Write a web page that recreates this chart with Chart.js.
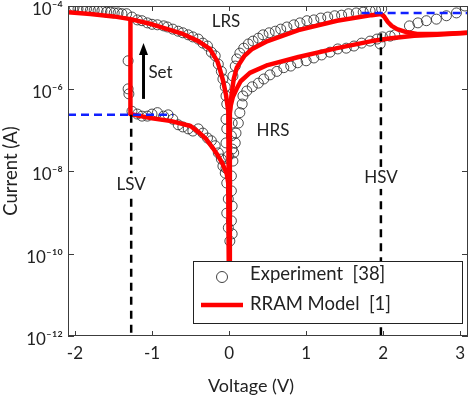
<!DOCTYPE html>
<html>
<head>
<meta charset="utf-8">
<script src="https://cdn.jsdelivr.net/npm/chart.js@4.4.1/dist/chart.umd.min.js"></script>
<style>
  html, body { margin: 0; padding: 0; background: #fff; }
</style>
</head>
<body>
<canvas id="ivChart" width="474" height="397"></canvas>
<script>
// ticks
const xTicks = [-2, -1, 0, 1, 2, 3];
const yTickValues = [1e-12, 1e-10, 1e-8, 1e-6, 1e-4];
const yTickLabels = ['10⁻¹²', '10⁻¹⁰', '10⁻⁸', '10⁻⁶', '10⁻⁴'];

// measured points (V, A)
const expV = [
  -2.06, -2.01, -1.96, -1.90, -1.85, -1.80, -1.75, -1.70, -1.65, -1.59, -1.54, -1.49, -1.44, -1.39, -1.33,
  -1.31, -1.31, -1.30,
  -1.26, -1.19, -1.13, -1.06, -1.00, -0.93, -0.85, -0.80, -0.73, -0.66, -0.60, -0.53, -0.47, -0.40, -0.34, -0.28, -0.23, -0.18, -0.14, -0.10, -0.08, -0.05, -0.04, -0.03,
  -1.26, -1.19, -1.13, -1.06, -1.00, -0.93, -0.85, -0.79, -0.73, -0.66, -0.60, -0.53, -0.47, -0.40, -0.34, -0.28, -0.23, -0.18, -0.14, -0.10, -0.08, -0.05,
  -0.04, 0.04, -0.03, 0.03, -0.04, 0.04, -0.01, 0.05, -0.04, 0.03, -0.03, 0.03, -0.01, 0.04, -0.03, 0.03, -0.01, 0.04, 0.01,
  0.17, 0.14, 0.12, 0.09, 0.08, 0.06, 0.18, 0.23, 0.30, 0.38, 0.45, 0.53, 0.62, 0.71, 0.80, 0.89, 1.00, 1.10, 1.20, 1.31, 1.41, 1.52, 1.62, 1.72, 1.83, 1.92, 1.99, 1.96, 2.09, 2.15,
  2.34, 2.45, 2.56, 2.69, 2.82, 2.95, 3.06,
  0.05, 0.08, 0.10, 0.14, 0.19, 0.25, 0.31, 0.38, 0.44, 0.52, 0.60, 0.67, 0.75, 0.84, 0.92, 1.01, 1.10, 1.19, 1.28, 1.37, 1.46, 1.55, 1.65, 1.74, 1.83, 1.90, 1.98
];
const expI = [
  8.9e-5, 9.55e-5, 8.5e-5, 8.9e-5, 8.5e-5, 7.9e-5, 7.9e-5, 7.6e-5, 7.6e-5, 7.1e-5, 7.1e-5, 6.8e-5, 6.8e-5, 6.5e-5, 6.5e-5,
  4.7e-6, 9.8e-7, 7.4e-7,
  5.4e-5, 4.6e-5, 4.4e-5, 3.9e-5, 3.6e-5, 3.5e-5, 3.3e-5, 3.1e-5, 2.75e-5, 2.45e-5, 2.24e-5, 2.0e-5, 1.78e-5, 1.58e-5, 1.26e-5, 1.07e-5, 7.6e-6, 6.2e-6, 3.9e-6, 2.6e-6, 1.7e-6, 1.1e-6, 6.6e-7, 4.2e-7,
  2.8e-7, 2.4e-7, 2.14e-7, 2.14e-7, 2.4e-7, 2.6e-7, 2.14e-7, 2.3e-7, 1.8e-7, 1.32e-7, 1.17e-7, 1.05e-7, 9.3e-8, 1.05e-7, 8.3e-8, 6.3e-8, 5.4e-8, 4.1e-8, 2.75e-8, 1.95e-8, 1.32e-8, 8.9e-9,
  1.8e-7, 1.45e-7, 1.05e-7, 7.1e-8, 4.8e-8, 3.4e-8, 2.3e-8, 1.74e-8, 1.17e-8, 7.6e-9, 5.1e-9, 3.3e-9, 2.1e-9, 1.41e-9, 9.5e-10, 6.2e-10, 4.2e-10, 3.0e-10, 2.0e-10,
  4.2e-7, 2.6e-7, 1.45e-7, 8.3e-8, 4.8e-8, 2.75e-8, 6.6e-7, 8.7e-7, 1.1e-6, 1.35e-6, 1.7e-6, 2.14e-6, 2.6e-6, 3.2e-6, 3.5e-6, 4.2e-6, 4.7e-6, 5.5e-6, 6.5e-6, 7.6e-6, 9.1e-6, 9.5e-6, 1.07e-5, 1.26e-5, 1.41e-5, 1.58e-5, 1.78e-5, 1.2e-5, 1.86e-5, 2.0e-5,
  3.3e-5, 3.9e-5, 4.4e-5, 4.8e-5, 5.8e-5, 6.8e-5, 1.0e-4,
  2.0e-6, 3.5e-6, 5.2e-6, 7.2e-6, 9.5e-6, 1.2e-5, 1.41e-5, 1.66e-5, 2.0e-5, 2.24e-5, 2.45e-5, 2.75e-5, 3.1e-5, 3.5e-5, 3.9e-5, 4.4e-5, 4.6e-5, 5.1e-5, 5.4e-5, 5.8e-5, 6.0e-5, 6.5e-5, 6.8e-5, 7.1e-5, 7.6e-5, 7.9e-5, 8.5e-5
];

// model branches
const lrsNegV = [-2.09, -1.8, -1.5, -1.28, -1.0, -0.8, -0.6, -0.4, -0.25, -0.15, -0.12, -0.08, -0.04, -0.01, 0];
const lrsNegI = [7.1e-5, 6.4e-5, 5.6e-5, 4.8e-5, 3.6e-5, 2.75e-5, 2.1e-5, 1.41e-5, 9.1e-6, 4.5e-6, 2.95e-6, 1.6e-6, 7e-7, 2.8e-7, 2.5e-11];
const hrsNegV = [0, -0.01, -0.03, -0.09, -0.15, -0.21, -0.3, -0.38, -0.5, -0.75, -1.0, -1.15, -1.28, -1.28];
const hrsNegI = [2.5e-11, 5.0e-9, 8.5e-9, 1.58e-8, 2.45e-8, 3.6e-8, 6.0e-8, 8.3e-8, 1.23e-7, 1.62e-7, 1.9e-7, 2.14e-7, 2.4e-7, 4.8e-5];
const lrsPosV = [0, 0.01, 0.03, 0.06, 0.1, 0.2, 0.3, 0.5, 0.9, 1.4, 1.85, 1.97, 2.01, 2.06, 2.11, 2.18, 2.31, 2.44, 2.7, 3.1];
const lrsPosI = [2.5e-11, 2.8e-7, 6.6e-7, 1.7e-6, 3.2e-6, 6.2e-6, 9.1e-6, 1.41e-5, 2.6e-5, 4.4e-5, 6.0e-5, 6.4e-5, 5.6e-5, 4.1e-5, 3.3e-5, 2.75e-5, 2.3e-5, 2.1e-5, 2.1e-5, 2.24e-5];
const hrsPosV = [0.01, 0.02, 0.05, 0.1, 0.15, 0.27, 0.5, 0.9, 1.4, 1.85, 2.1, 2.4, 2.7, 3.1];
const hrsPosI = [2.6e-7, 3.8e-7, 6.3e-7, 1.0e-6, 1.5e-6, 2.4e-6, 3.7e-6, 5.8e-6, 9.5e-6, 1.41e-5, 1.66e-5, 1.9e-5, 2.0e-5, 2.24e-5];

// guide lines
const lsvLineV = [-1.27, -1.27];
const lsvLineI = [2.3e-7, 1e-12];
const hsvLineV = [1.97, 1.97];
const hsvLineI = [4.8e-5, 1e-12];
const lsvLevelV = [-2.09, -0.73];
const lsvLevelI = [2.3e-7, 2.3e-7];
const hsvLevelV = [1.72, 3.1];
const hsvLevelI = [6.8e-5, 6.8e-5];

// text on the plot
const noteText = ['LRS', 'HRS', 'Set', 'LSV', 'HSV'];
const noteV = [-0.04, 0.57, -0.89, -1.27, 1.97];
const noteI = [4.1e-5, 9.8e-8, 2.4e-6, 4.8e-9, 6.8e-9];
const setArrowV = [-1.11, -1.11];
const setArrowI = [5.6e-7, 1.26e-5];
const legendLabels = ['Experiment  [38]', 'RRAM Model  [1]'];

const FONT = 'Lato, "DejaVu Sans", sans-serif';
const INK = '#222';
const RED = '#ff0000';

const pts = (vs, is) => vs.map((v, k) => ({ x: v, y: is[k] }));

function lineSet(vs, is, color, width, dash, order) {
    return {
        data: pts(vs, is), showLine: true, borderColor: color, borderWidth: width,
        borderDash: dash, pointRadius: 0, pointHoverRadius: 0, tension: 0,
        borderJoinStyle: 'round', borderCapStyle: 'butt', order
    };
}

// frame, inner ticks, notes, arrow, legend, x title
const decor = {
    id: 'decor',
    afterDatasetsDraw(chart) {
        const { ctx, chartArea: a, scales: { x, y } } = chart;
        ctx.save();

        ctx.strokeStyle = '#3c3c3c';
        ctx.lineWidth = 1;
        ctx.strokeRect(a.left + 0.5, a.top + 0.5, a.right - a.left - 1, a.bottom - a.top - 1);
        ctx.beginPath();
        xTicks.forEach(v => {
            const px = Math.round(x.getPixelForValue(v)) + 0.5;
            ctx.moveTo(px, a.bottom); ctx.lineTo(px, a.bottom - 5);
            ctx.moveTo(px, a.top); ctx.lineTo(px, a.top + 5);
        });
        yTickValues.forEach(v => {
            const py = Math.round(y.getPixelForValue(v)) + 0.5;
            ctx.moveTo(a.left, py); ctx.lineTo(a.left + 6, py);
            ctx.moveTo(a.right, py); ctx.lineTo(a.right - 6, py);
        });
        ctx.stroke();

        // Set arrow
        const ax = x.getPixelForValue(setArrowV[0]);
        const ay0 = y.getPixelForValue(setArrowI[0]);
        const ay1 = y.getPixelForValue(setArrowI[1]);
        ctx.strokeStyle = '#000';
        ctx.lineWidth = 3;
        ctx.beginPath(); ctx.moveTo(ax, ay0); ctx.lineTo(ax, ay1 + 8); ctx.stroke();
        ctx.fillStyle = '#000';
        ctx.beginPath(); ctx.moveTo(ax, ay1); ctx.lineTo(ax - 4.5, ay1 + 12); ctx.lineTo(ax + 4.5, ay1 + 12); ctx.closePath(); ctx.fill();

        // notes
        ctx.font = '17px ' + FONT;
        ctx.textAlign = 'center';
        ctx.textBaseline = 'middle';
        noteText.forEach((t, k) => {
            const px = x.getPixelForValue(noteV[k]);
            const py = y.getPixelForValue(noteI[k]);
            const w = ctx.measureText(t).width;
            ctx.fillStyle = '#fff';
            ctx.fillRect(px - w / 2 - 2, py - 11, w + 4, 22);
            ctx.fillStyle = INK;
            ctx.fillText(t, px, py);
        });

        // legend box
        const lx = a.left + 125, ly = a.bottom - 75, lw = a.right - 6 - lx, lh = 62;
        ctx.fillStyle = '#fff';
        ctx.fillRect(lx, ly, lw, lh);
        ctx.strokeStyle = '#222';
        ctx.lineWidth = 1;
        ctx.strokeRect(lx + 0.5, ly + 0.5, lw, lh);
        ctx.strokeStyle = 'rgba(45,45,45,0.9)';
        ctx.beginPath(); ctx.arc(lx + 29, ly + 16, 5.5, 0, Math.PI * 2); ctx.stroke();
        ctx.strokeStyle = RED;
        ctx.lineWidth = 4.5;
        ctx.beginPath(); ctx.moveTo(lx + 8, ly + 44); ctx.lineTo(lx + 50, ly + 44); ctx.stroke();
        ctx.font = '18.5px ' + FONT;
        ctx.fillStyle = INK;
        ctx.textAlign = 'left';
        ctx.fillText(legendLabels[0], lx + 57, ly + 13);
        ctx.fillText(legendLabels[1], lx + 57, ly + 43);

        // x title
        ctx.font = '18px ' + FONT;
        ctx.textAlign = 'center';
        ctx.fillText('Voltage (V)', (a.left + a.right) / 2 - 17, 386);
        ctx.restore();
    }
};

new Chart(document.getElementById('ivChart'), {
    type: 'scatter',
    data: {
        datasets: [
            {
                data: pts(expV, expI), pointStyle: 'circle', pointRadius: 5, pointHoverRadius: 5,
                pointBorderWidth: 1, pointBorderColor: 'rgba(45,45,45,0.85)',
                pointBackgroundColor: 'rgba(0,0,0,0)', order: 3
            },
            lineSet(lrsNegV, lrsNegI, RED, 4.5, [], 2),
            lineSet(hrsNegV, hrsNegI, RED, 4.5, [], 2),
            lineSet(lrsPosV, lrsPosI, RED, 4.5, [], 2),
            lineSet(hrsPosV, hrsPosI, RED, 4.5, [], 2),
            lineSet(lsvLineV, lsvLineI, '#000', 2.5, [8, 6], 1),
            lineSet(hsvLineV, hsvLineI, '#000', 2.5, [8, 6], 1),
            lineSet(lsvLevelV, lsvLevelI, '#1020ff', 2.5, [8, 5], 1),
            lineSet(hsvLevelV, hsvLevelI, '#1020ff', 2.5, [8, 5], 1)
        ]
    },
    options: {
        responsive: false,
        animation: false,
        devicePixelRatio: 1,
        layout: { padding: { top: 5, right: 5, left: 0, bottom: 0 } },
        plugins: { legend: { display: false }, tooltip: { enabled: false } },
        scales: {
            x: {
                type: 'linear', min: -2.09, max: 3.1,
                afterBuildTicks: s => { s.ticks = xTicks.map(v => ({ value: v })); },
                afterFit: s => { s.height = 61; s.paddingLeft = 0; s.paddingRight = 0; },
                grid: { display: false, drawTicks: false },
                border: { display: false },
                ticks: { color: INK, font: { family: FONT, size: 17 }, padding: 7, callback: v => String(v) }
            },
            y: {
                type: 'logarithmic', min: 1e-12, max: 1e-4,
                afterBuildTicks: s => { s.ticks = yTickValues.map(v => ({ value: v })); },
                afterFit: s => { s.width = 68; s.paddingTop = 0; s.paddingBottom = 0; },
                grid: { display: false, drawTicks: false },
                border: { display: false },
                ticks: { color: INK, font: { family: FONT, size: 17 }, padding: 5, labelOffset: 4, callback: (v, i) => yTickLabels[i] },
                title: { display: true, text: 'Current (A)', color: INK, font: { family: FONT, size: 18.5 }, padding: { top: 0, bottom: 0 } }
            }
        }
    },
    plugins: [decor]
});
</script>
</body>
</html>
